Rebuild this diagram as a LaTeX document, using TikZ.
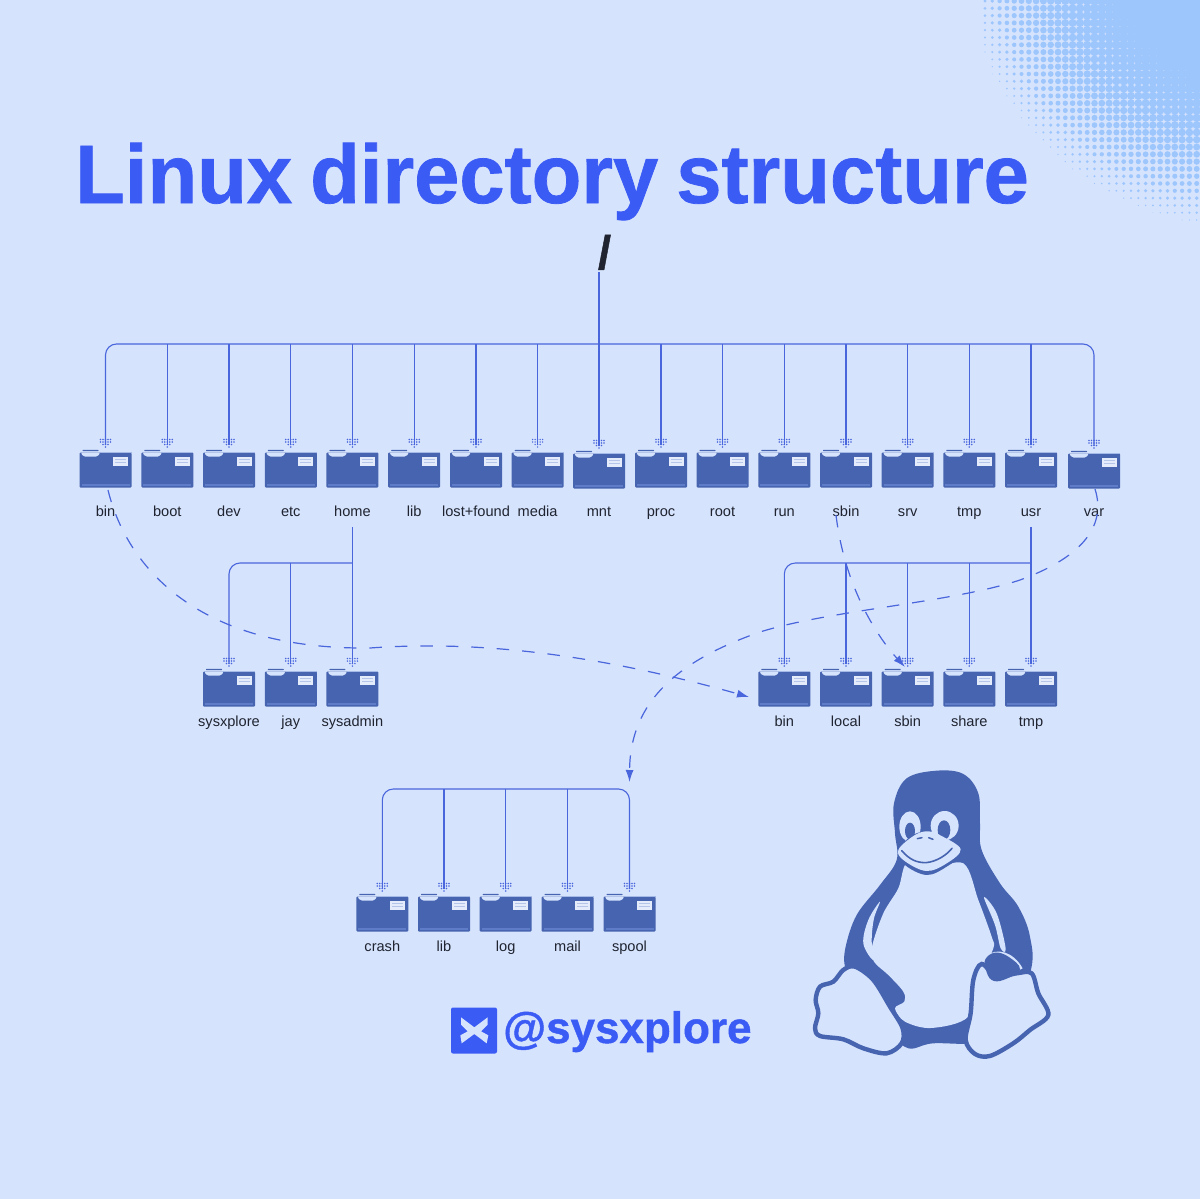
\documentclass[tikz,border=0pt]{standalone}
\usepackage{fontspec}
\setmainfont{Liberation Sans}
\newfontfamily\titlefont[FakeBold=0.9,FakeStretch=0.98,WordSpace=0.8]{Liberation Sans Bold}
\newfontfamily\handlefont[FakeBold=1.0]{Liberation Sans Bold}
\usetikzlibrary{arrows.meta,calc}
\definecolor{bgc}{HTML}{D6E3FD}
\definecolor{halft}{HTML}{9DC6FD}
\definecolor{titlec}{HTML}{3B5BF5}
\definecolor{linec}{HTML}{4A66DC}
\definecolor{foldc}{HTML}{4664B0}
\definecolor{stripc}{HTML}{5E7CC8}
\definecolor{cardc}{HTML}{E4EBFB}
\definecolor{inkc}{HTML}{1F2430}
\tikzset{
  folderbox/.style={fill=foldc,draw=none,minimum width=52pt,minimum height=35pt,rounded corners=1pt,inner sep=0pt,outer sep=0pt},
  foldlabel/.style={font=\fontsize{14.6}{15}\selectfont,text=inkc,inner sep=0pt,anchor=base},
  conn/.style={draw=linec,line width=1.1pt},
  dashconn/.style={draw=linec,line width=1.2pt,dash pattern=on 12.5pt off 13pt,-{Latex[length=12pt,width=8pt]}},
  penguin/.style={fill=foldc,draw=none},
  belly/.style={fill=bgc,draw=none},
  footstyle/.style={fill=bgc,draw=foldc,line width=4.4pt}
}
\newcommand{\fold}[5]{% name, cx, top, label, label baseline
  \node[folderbox] (#1) at (#2,#3+17.5) {};
  \coordinate (#1-t) at (#2,#3-8);
  \begin{scope}[shift={(#2,#3)}]
    \fill[bgc,rounded corners=1.5pt] (-25,0) -- (-5,0) -- (-8,4) -- (-22,4) -- cycle;
    \fill[stripc!40!bgc] (-5,-0.3) rectangle (26,0.5);
    \fill[foldc,rounded corners=0.5pt] (-23,-2.6) rectangle (-7,-1.4);
    \fill[cardc] (7.5,4.2) rectangle (22.5,13);
    \fill[stripc!35!cardc] (9.5,6.5) rectangle (20.5,7.2);
    \fill[stripc!35!cardc] (9.5,9.2) rectangle (20.5,9.9);
    \fill[stripc] (-24,31.5) rectangle (24,33.2);
    \foreach \yy/\xs in {-13/{-5,-2.5,0,2.5,5},-10.5/{-5,-2.5,0,2.5,5},-8/{-2.5,0,2.5},-5.5/{0}}{
      \foreach \xx in \xs {\fill[linec] (\xx,\yy) circle (0.85);}
    }
  \end{scope}
  \node[foldlabel] (#1-l) at (#2,#5) {#4};
}
\begin{document}
\begin{tikzpicture}[x=1pt,y=-1pt]
\useasboundingbox (0,0) rectangle (1200,1199);
\fill[bgc] (0,0) rectangle (1200,1199);
% halftone corner
\begin{scope}
  \clip (0,0) rectangle (1200,1199);
  \fill[halft] (1240,-50) circle (125);
  \foreach \i in {0,...,30}{
    \foreach \j in {0,...,30}{
      \pgfmathsetmacro{\px}{985+7.3*\i}
      \pgfmathsetmacro{\py}{1+7.3*\j}
      \pgfmathsetmacro{\dd}{veclen(\px-1240,\py+50)}
      \ifdim \dd pt<277pt
        \ifdim \dd pt>120pt
        \pgfmathsetmacro{\rr}{5.2*pow((278-\dd)/153,0.55)}
        \fill[halft] (\px,\py) circle (\rr);
        \fi
      \fi
    }
  }
\end{scope}
% title
\node[anchor=base west,inner sep=0pt,text=titlec,font=\fontsize{83}{84}\selectfont\titlefont] (title) at (75,203) {Linux directory structure};
\node[anchor=base,inner sep=0pt,text=inkc,font=\fontsize{47}{47}\selectfont\handlefont] (root) at (604.5,269) {/};
% level 1
\coordinate (bar) at (599,344);
\fold{a1}{105.5}{452.5}{bin}{516}
\fold{a2}{167.3}{452.5}{boot}{516}
\fold{a3}{229}{452.5}{dev}{516}
\fold{a4}{290.8}{452.5}{etc}{516}
\fold{a5}{352.4}{452.5}{home}{516}
\fold{a6}{414.2}{452.5}{lib}{516}
\fold{a7}{476}{452.5}{lost+found}{516}
\fold{a8}{537.6}{452.5}{media}{516}
\fold{a9}{599}{453.5}{mnt}{516}
\fold{a10}{661}{452.5}{proc}{516}
\fold{a11}{722.5}{452.5}{root}{516}
\fold{a12}{784.3}{452.5}{run}{516}
\fold{a13}{846}{452.5}{sbin}{516}
\fold{a14}{907.7}{452.5}{srv}{516}
\fold{a15}{969.3}{452.5}{tmp}{516}
\fold{a16}{1031}{452.5}{usr}{516}
\fold{a17}{1094}{453.5}{var}{516}
\draw[conn,rounded corners=11pt] (a1-t) -- (a1-t |- bar) -- (a17-t |- bar) -- (a17-t);
\foreach \n in {2,...,16}{\draw[conn] (a\n-t |- bar) -- (a\n-t);}
\coordinate (rootfoot) at (599,272);
\draw[conn] (rootfoot) -- (a9-t |- bar);
% home
\coordinate (hbar) at (352.4,563);
\fold{b1}{229}{671.5}{sysxplore}{726}
\fold{b2}{290.8}{671.5}{jay}{726}
\fold{b3}{352.4}{671.5}{sysadmin}{726}
\draw[conn] (a5-l.south) ++(0,11) -- (b3-t);
\draw[conn,rounded corners=11pt] (hbar) -- (b1-t |- hbar) -- (b1-t);
\draw[conn] (b2-t |- hbar) -- (b2-t);
% usr
\coordinate (ubar) at (1031,563);
\fold{c1}{784.3}{671.5}{bin}{726}
\fold{c2}{846}{671.5}{local}{726}
\fold{c3}{907.7}{671.5}{sbin}{726}
\fold{c4}{969.3}{671.5}{share}{726}
\fold{c5}{1031}{671.5}{tmp}{726}
\draw[conn] (a16-l.south) ++(0,11) -- (c5-t);
\draw[conn,rounded corners=11pt] (ubar) -- (c1-t |- ubar) -- (c1-t);
\foreach \n in {2,3,4}{\draw[conn] (c\n-t |- ubar) -- (c\n-t);}
% var
\coordinate (vbar) at (629.5,789);
\fold{d1}{382.3}{896.5}{crash}{951}
\fold{d2}{444}{896.5}{lib}{951}
\fold{d3}{505.7}{896.5}{log}{951}
\fold{d4}{567.5}{896.5}{mail}{951}
\fold{d5}{629.5}{896.5}{spool}{951}
\draw[conn,rounded corners=11pt] (d1-t) -- (d1-t |- vbar) -- (vbar) -- (d5-t);
\foreach \n in {2,3,4}{\draw[conn] (d\n-t |- vbar) -- (d\n-t);}
% dashed
\coordinate (s1) at (108,490);
\coordinate (s2) at (836,515);
\coordinate (s3) at (1095,489);
\coordinate (e3) at (629.5,782);
\coordinate (e2) at (905,667);
\coordinate (e1) at (749,697);
\draw[dashconn] (s1) .. controls (125,560) and (190,650) .. (370,648) .. controls (480,640) and (600,655) .. (e1);
\draw[dashconn] (s2) .. controls (845,590) and (880,640) .. (e2);
\draw[dashconn] (s3) .. controls (1108,530) and (1075,560) .. (1020,580) .. controls (950,603) and (830,610) .. (760,632) .. controls (680,660) and (630,700) .. (e3);
% logo
\node[fill=titlec,minimum width=46pt,minimum height=46pt,rounded corners=2pt,inner sep=0pt] (logo) at (474,1030.5) {};
\begin{scope}[shift={(445,1002)},x=0.3333pt,y=-0.3333pt]
  \fill[bgc] (48,46) -- (88,76) -- (128,46) -- (128,68) -- (108,88) -- (130,100) -- (125,124) -- (88,96) -- (50,124) -- (46,100) -- (68,88) -- (48,68) -- cycle;
\end{scope}
\node[anchor=base west,inner sep=0pt,text=titlec,font=\fontsize{44}{44}\selectfont\handlefont] (handle) at (503,1043) {@sysxplore};
% penguin
\begin{scope}[shift={(800,760)},x=0.3333pt,y=-0.3333pt]
  \fill[penguin] plot[smooth cycle,tension=0.6] coordinates {(410,32) (490,42) (535,100) (540,190) (545,270) (600,370) (655,440) (690,530) (690,640) (600,830) (400,850) (300,850) (160,640) (135,620) (137,560) (170,465) (240,375) (290,300) (285,220) (282,130) (320,55)};
  % belly
  \fill[belly] plot[smooth cycle,tension=0.55] coordinates {(385,330) (320,310) (295,385) (250,460) (216,560) (222,605) (265,645) (310,695) (313,725) (285,745) (315,785) (395,804) (505,770) (540,650) (580,565) (575,530) (535,420) (490,310)};
  % arm stripes
  \fill[belly] plot[smooth cycle,tension=0.6] coordinates {(240,425) (205,480) (190,550) (220,600) (215,540) (222,475)};
  \fill[belly] plot[smooth cycle,tension=0.6] coordinates {(552,412) (590,460) (617,565) (602,565) (585,495)};
  % right foot and hand
  \fill[footstyle] plot[smooth cycle,tension=0.55] coordinates {(545,612) (520,660) (512,760) (497,840) (525,882) (570,888) (640,850) (690,810) (745,765) (715,700) (695,640) (650,640) (590,650)};
  \fill[bgc] (555,590) .. controls (590,560) and (640,575) .. (668,625) -- (640,640) -- (560,620) -- cycle;
  \fill[penguin] plot[smooth cycle,tension=0.65] coordinates {(556,598) (585,578) (625,590) (660,628) (610,660) (575,660) (558,630)};
  % left foot
  \fill[footstyle] plot[smooth cycle,tension=0.55] coordinates {(165,620) (130,630) (100,665) (60,680) (47,720) (55,760) (45,805) (60,828) (130,838) (190,865) (260,880) (305,850) (308,805) (270,740) (220,660)};
  % eyes
  \fill[belly] (330,200) ellipse [x radius=32,y radius=46];
  \fill[belly] (434,197) ellipse [x radius=42,y radius=44];
  \fill[penguin] (330,213) ellipse [x radius=15,y radius=25];
  \fill[penguin] (432,210) ellipse [x radius=19,y radius=29];
  % beak
  \fill[penguin] plot[smooth cycle,tension=0.6] coordinates {(300,275) (315,315) (380,345) (440,320) (482,280) (430,235) (380,215) (330,230)};
  \fill[belly] plot[smooth cycle,tension=0.6] coordinates {(296,268) (310,300) (378,333) (440,310) (482,268) (425,228) (385,214) (345,225)};
  \draw[foldc,line width=1.6pt,line cap=round] (305,272) .. controls (330,300) and (350,308) .. (378,308) .. controls (410,305) and (440,285) .. (456,265);
  \draw[foldc,line width=1.5pt,line cap=round] (352,236) -- (366,233);
  \draw[foldc,line width=1.5pt,line cap=round] (386,233) -- (399,238);
\end{scope}
\end{tikzpicture}
\end{document}
